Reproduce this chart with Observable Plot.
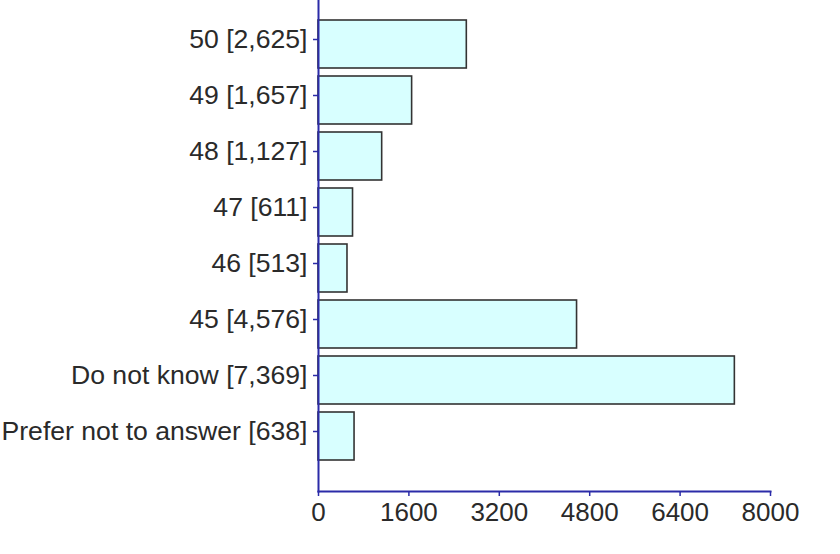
<!DOCTYPE html>
<html>
<head>
<meta charset="utf-8">
<script src="https://cdn.jsdelivr.net/npm/d3@7"></script>
<script src="https://cdn.jsdelivr.net/npm/@observablehq/plot@0.6"></script>
<style>
  html, body { margin: 0; padding: 0; background: white; }
</style>
</head>
<body>
<div id="chart"></div>
<script>
const categories = ["50", "49", "48", "47", "46", "45", "Do not know", "Prefer not to answer"];
const counts = [2625, 1657, 1127, 611, 513, 4576, 7369, 638];
const xTicks = [0, 1600, 3200, 4800, 6400, 8000];

const fmt = d3.format(",");
const labels = categories.map((c, i) => `${c} [${fmt(counts[i])}]`);
const data = categories.map((c, i) => ({label: labels[i], value: counts[i]}));

const axisColor = "#2b2ba8";
const textColor = "#2a2a2a";

const chart = Plot.plot({
  width: 840,
  height: 554,
  marginLeft: 318,
  marginRight: 70,
  marginTop: 0,
  marginBottom: 63,
  style: {fontFamily: "'Liberation Sans', Arial, sans-serif", fontSize: "26px", background: "white", color: textColor},
  x: {domain: [0, 8000]},
  y: {domain: labels, range: [16, 464], paddingInner: 0.143, paddingOuter: 0.0714},
  marks: [
    Plot.barX(data, {x: "value", y: "label", fill: "#d8ffff", stroke: "#333333", strokeWidth: 1.6}),
    Plot.axisX({ticks: xTicks, tickFormat: d3.format("d"), tickSize: 5, tickPadding: 6, stroke: axisColor, strokeWidth: 1.5, fill: textColor, fontSize: 26, label: null}),
    Plot.axisY({tickSize: 5, tickPadding: 6, stroke: axisColor, strokeWidth: 1.5, fill: textColor, fontSize: 26.6, dy: -5, label: null}),
    Plot.frame({anchor: "left", stroke: axisColor, strokeWidth: 2}),
    Plot.frame({anchor: "bottom", stroke: axisColor, strokeWidth: 2})
  ]
});
document.getElementById("chart").appendChild(chart);
</script>
</body>
</html>
